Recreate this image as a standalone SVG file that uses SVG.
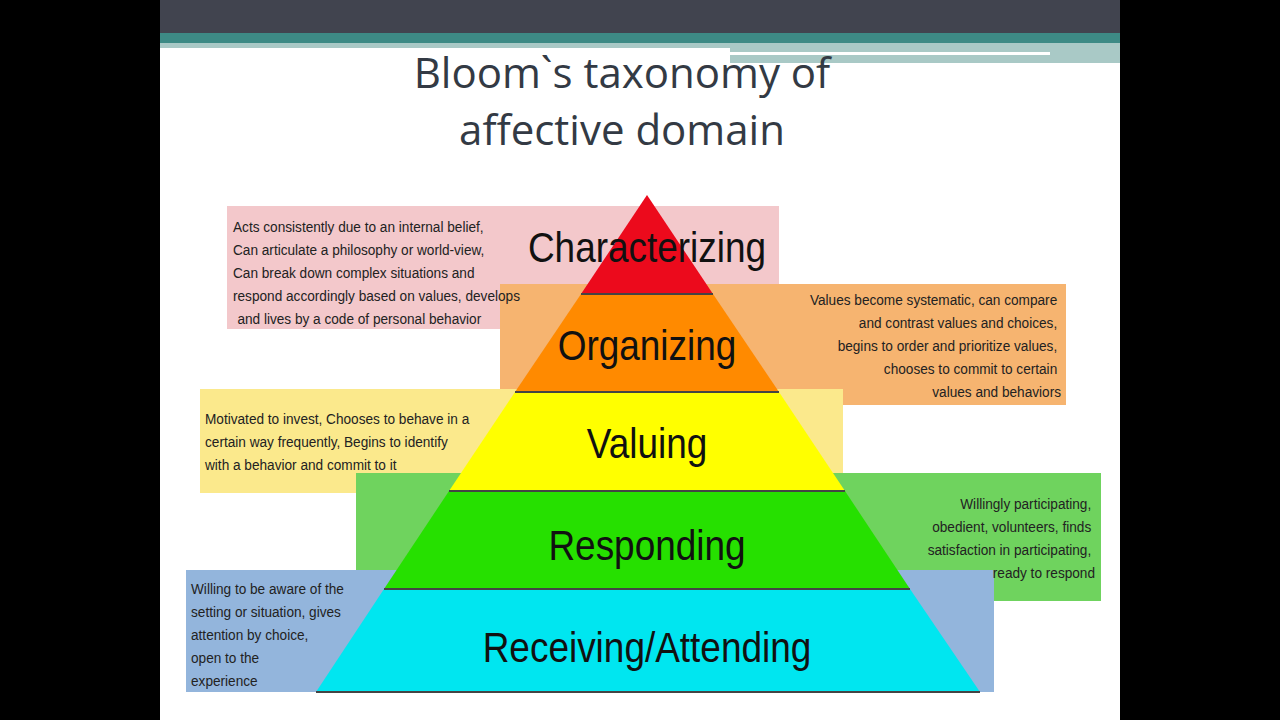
<svg xmlns="http://www.w3.org/2000/svg" width="1280" height="720" viewBox="0 0 1280 720">
<style>
.d{font-family:"Liberation Sans",Arial,sans-serif;font-size:15.5px;fill:#222}
.l{font-family:"Liberation Sans",Arial,sans-serif;font-size:42px;fill:#111;text-anchor:middle}
.t{font-family:"Open Sans","DejaVu Sans",sans-serif;font-size:42px;fill:#333a44;text-anchor:middle}
.sep{stroke:#444;stroke-width:2}
</style>
<rect width="1280" height="720" fill="#000"/>
<rect x="160" y="0" width="960" height="720" fill="#fff"/>
<rect x="160" y="0" width="960" height="33" fill="#41444f"/>
<rect x="160" y="33" width="960" height="10" fill="#3d8a85"/>
<rect x="160" y="43" width="570" height="5" fill="#a9c9c6"/>
<rect x="730" y="43" width="390" height="20" fill="#a9c9c6"/>
<rect x="730" y="52" width="320" height="3" fill="#fff"/>
<g id="title"><text class="t" x="622" y="88">Bloom`s taxonomy of</text><text class="t" x="622" y="145">affective domain</text></g>
<g id="boxes">
<rect x="227" y="206" width="552" height="123" fill="#f3c8cb"/>
<rect x="500" y="284" width="566" height="121" fill="#f6b470"/>
<rect x="200" y="389" width="643" height="104" fill="#fbe98c"/>
<rect x="356" y="473" width="745" height="128" fill="#6fd35e"/>
<rect x="186" y="570" width="808" height="122" fill="#93b5dc"/>
</g>
<g id="pyramid">
<polygon points="647,195 713,294 581,294" fill="#ec0a1c"/>
<polygon points="581,294 713,294 779,392 515,392" fill="#ff8a00"/>
<polygon points="515,392 779,392 845,491 449,491" fill="#ffff00"/>
<polygon points="449,491 845,491 910,589 384,589" fill="#26e000"/>
<polygon points="384,589 910,589 980,692 316,692" fill="#00e6f0"/>
<line class="sep" x1="581" y1="294" x2="713" y2="294"/>
<line class="sep" x1="515" y1="392" x2="779" y2="392"/>
<line class="sep" x1="449" y1="491" x2="845" y2="491"/>
<line class="sep" x1="384" y1="589" x2="910" y2="589"/>
<line class="sep" x1="316" y1="692" x2="980" y2="692"/>
</g>
<g id="labels">
<text class="l" transform="translate(647,262) scale(0.88,1)">Characterizing</text>
<text class="l" transform="translate(647,360) scale(0.88,1)">Organizing</text>
<text class="l" transform="translate(647,458) scale(0.88,1)">Valuing</text>
<text class="l" transform="translate(647,560) scale(0.88,1)">Responding</text>
<text class="l" transform="translate(647,662) scale(0.88,1)">Receiving/Attending</text>
</g>
<g id="descs">
<g transform="translate(233,232) scale(0.88,1)"><text class="d">
<tspan x="0" y="0">Acts consistently due to an internal belief,</tspan>
<tspan x="0" y="23">Can articulate a philosophy or world-view,</tspan>
<tspan x="0" y="46">Can break down complex situations and</tspan>
<tspan x="0" y="69">respond accordingly based on values, develops</tspan>
<tspan x="5" y="92">and lives by a code of personal behavior</tspan></text></g>
<g transform="translate(1061,305) scale(0.88,1)"><text class="d" text-anchor="end">
<tspan x="0" y="0">Values become systematic, can compare</tspan>
<tspan x="0" y="23">and contrast values and choices,</tspan>
<tspan x="0" y="46">begins to order and prioritize values,</tspan>
<tspan x="0" y="69">chooses to commit to certain</tspan>
<tspan x="0" y="92">values and behaviors</tspan></text></g>
<g transform="translate(205,424) scale(0.88,1)"><text class="d">
<tspan x="0" y="0">Motivated to invest, Chooses to behave in a</tspan>
<tspan x="0" y="23">certain way frequently, Begins to identify</tspan>
<tspan x="0" y="46">with a behavior and commit to it</tspan></text></g>
<g transform="translate(1095,509) scale(0.88,1)"><text class="d" text-anchor="end">
<tspan x="0" y="0">Willingly participating,</tspan>
<tspan x="0" y="23">obedient, volunteers, finds</tspan>
<tspan x="0" y="46">satisfaction in participating,</tspan>
<tspan x="0" y="69">ready to respond</tspan></text></g>
<g transform="translate(191,594) scale(0.88,1)"><text class="d">
<tspan x="0" y="0">Willing to be aware of the</tspan>
<tspan x="0" y="23">setting or situation, gives</tspan>
<tspan x="0" y="46">attention by choice,</tspan>
<tspan x="0" y="69">open to the</tspan>
<tspan x="0" y="92">experience</tspan></text></g>
</g>
</svg>
